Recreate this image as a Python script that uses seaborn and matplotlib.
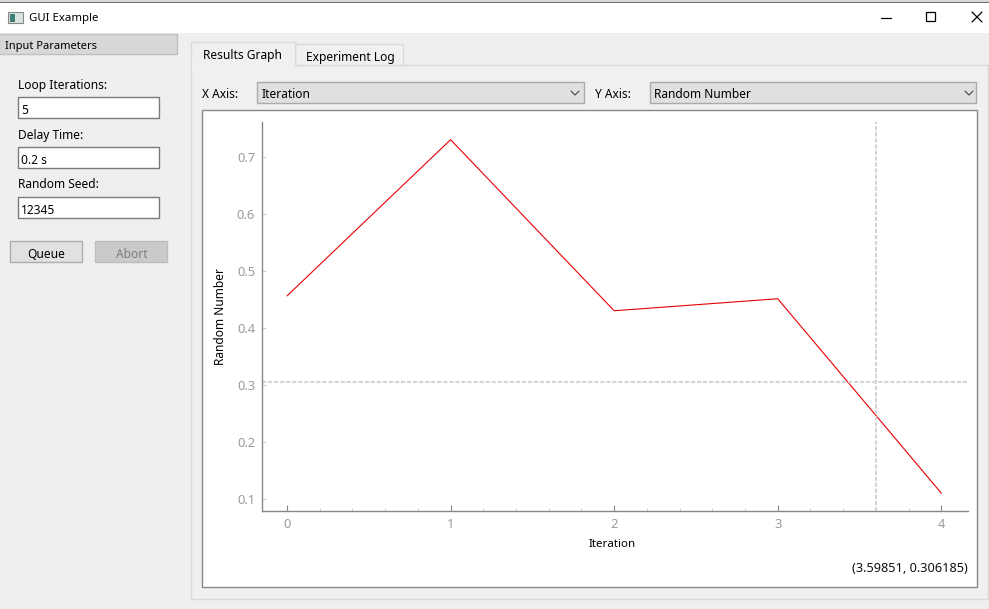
import pandas as pd
import matplotlib.pyplot as plt
import seaborn as sns
from matplotlib.patches import Rectangle
from matplotlib.ticker import MultipleLocator

# values
iterations = [0, 1, 2, 3, 4]
random_numbers = [0.457, 0.731, 0.431, 0.452, 0.111]
x_ticks = [0, 1, 2, 3, 4]
y_ticks = [0.1, 0.2, 0.3, 0.4, 0.5, 0.6, 0.7]
cursor_x = 3.59851
cursor_y = 0.306185
cursor_label = '(3.59851, 0.306185)'

W, H = 989, 609
FONT = ['Noto Sans', 'DejaVu Sans']
FS = 8.6

sns.set_theme(style='white')
plt.rcParams['font.family'] = FONT

fig = plt.figure(figsize=(W / 100, H / 100), dpi=100, facecolor='#efefef')

# window chrome, drawn in pixel coordinates
ui = fig.add_axes([0, 0, 1, 1], zorder=0)
ui.set_xlim(0, W)
ui.set_ylim(H, 0)
ui.axis('off')


def box(x0, y0, x1, y1, fc, ec='none', lw=1.0):
    ui.add_patch(Rectangle((x0, y0), x1 - x0, y1 - y0, fc=fc, ec=ec, lw=lw))


def label(x, y, s, color='black', ha='left', size=FS):
    ui.text(x, y + 2, s, color=color, ha=ha, va='center', fontsize=size)


def chevron(x, y):
    ui.plot([x - 4, x, x + 4], [y - 2, y + 2, y - 2], color='#444444', lw=0.8)


# title bar
box(0, 0, W, 2, '#d8d8d8')
box(0, 2, W, 3, '#6e6e6e')
box(0, 3, W, 33, 'white')
box(8, 12, 23, 23, '#d8e4e0', '#888888', 0.8)
box(10, 14, 15, 22, '#3f7f78')
label(29, 17, 'GUI Example', size=8.2)
ui.plot([881, 891], [17.5, 17.5], color='black', lw=0.9)
box(926, 12, 935, 21, 'white', 'black', 0.9)
ui.plot([972, 982], [12, 22], color='black', lw=0.9)
ui.plot([972, 982], [22, 12], color='black', lw=0.9)

# left panel
box(-1, 34, 177, 54, '#d8d8d8', '#c0c0c0')
label(5, 45, 'Input Parameters', size=8.0)
label(18, 83, 'Loop Iterations:')
box(18, 97, 159, 118, 'white', '#7a7a7a')
label(21, 108, '5')
label(18, 133, 'Delay Time:')
box(18, 147, 159, 168, 'white', '#7a7a7a')
label(21, 158, '0.2 s')
label(18, 183, 'Random Seed:')
box(18, 197, 159, 218, 'white', '#7a7a7a')
label(21, 208, '12345')
box(10, 241, 82, 262, '#e1e1e1', '#adadad')
label(46.5, 252, 'Queue', ha='center')
box(95, 241, 167, 262, '#cacaca', '#bdbdbd')
label(131.5, 252, 'Abort', color='#7d7d7d', ha='center')

# tabs and pane
box(191, 65, 988, 599, '#f0f0f0', '#d9d9d9')
box(295, 44, 403, 65, '#f0f0f0', '#d9d9d9')
box(191, 42, 295, 65, '#f0f0f0', '#d9d9d9')
box(192, 62, 295, 67, '#f0f0f0')
label(203, 54, 'Results Graph')
label(306, 55, 'Experiment Log')

# combo boxes
label(202, 93, 'X Axis:')
box(257, 82, 584, 103, '#e0e0e0', '#ababab')
label(261, 93, 'Iteration')
chevron(575, 93)
label(595, 93, 'Y Axis:')
box(650, 82, 976, 103, '#e0e0e0', '#ababab')
label(654, 93, 'Random Number')
chevron(969, 93)

# plot frame
box(202, 110, 977, 587, 'white', '#85888c')
label(968, 567, cursor_label, color='#111111', ha='right', size=9.2)

# the graph itself
left, right, top, bottom = 262, 968, 122, 511
ax = fig.add_axes([left / W, 1 - bottom / H, (right - left) / W, (bottom - top) / H],
                  zorder=1, facecolor='white')

df = pd.DataFrame({'Iteration': iterations, 'Random Number': random_numbers})
sns.lineplot(data=df, x='Iteration', y='Random Number', color='#e80000', lw=0.8, ax=ax)

ax.axvline(cursor_x, color='#d4d4d4', lw=1.5, ls=(0, (2.0, 0.9)))
ax.axhline(cursor_y, color='#d4d4d4', lw=1.5, ls=(0, (2.0, 0.9)))

ax.set_xlim(-0.153, 4.163)
ax.set_ylim(0.0798, 0.762)
ax.set_xticks(x_ticks)
ax.set_yticks(y_ticks)
ax.xaxis.set_minor_locator(MultipleLocator(0.2))

for side in ['top', 'right']:
    ax.spines[side].set_visible(False)
for side in ['left', 'bottom']:
    ax.spines[side].set_color('#85888c')
    ax.spines[side].set_linewidth(1.0)

ax.tick_params(axis='x', which='major', direction='in', length=4, width=0.8, color='#85888c',
               labelcolor='#a0989c', labelsize=9.3, pad=5, bottom=True)
ax.tick_params(axis='x', which='minor', direction='in', length=2, width=0.7, color='#cccccc', bottom=True)
ax.tick_params(axis='y', which='major', direction='in', length=3, width=0.7, color='#cccccc',
               labelcolor='#a0989c', labelsize=9.3, pad=5, left=True)
ax.set_xlabel('Iteration', fontsize=8.3, color='black', labelpad=6, x=0.496)
ax.set_ylabel('Random Number', fontsize=FS, color='black', labelpad=7)

fig.savefig('out.png', dpi=100, facecolor=fig.get_facecolor())
